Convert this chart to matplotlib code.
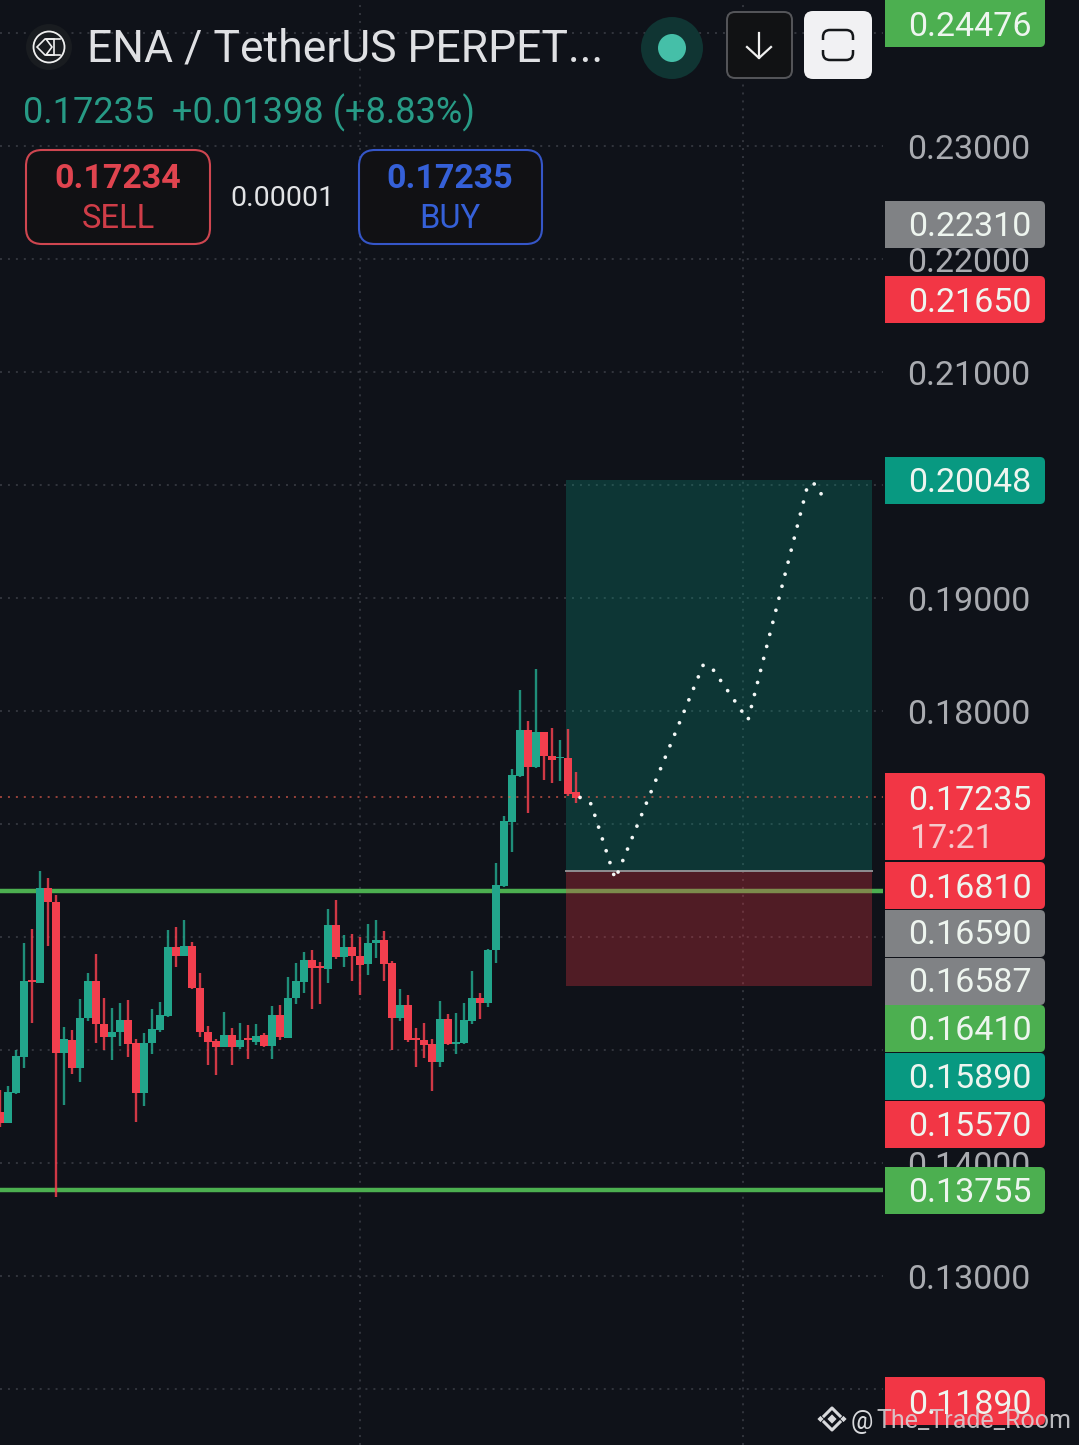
import numpy as np
import matplotlib
matplotlib.use("Agg")
import matplotlib.pyplot as plt
from matplotlib.patches import FancyBboxPatch, Circle, Rectangle, Polygon

plt.rcParams['font.family'] = ['Roboto', 'DejaVu Sans']

# === candles ===
opens = [.14454, .14357, .14622, .14941, .15619, .15596, .16431, .16307, .14970, .15088,
         .14844, .15280, .15611, .15227, .15118, .15162, .15265, .15059, .14622, .15059,
         .15177, .15304, .15909, .15835, .15923, .15552, .15162, .15083, .15030, .15133,
         .15030, .15103, .15068, .15133, .15038, .15310, .15109, .15457, .15605, .15796,
         .15743, .15717, .16106, .15826, .15914, .15835, .15761, .15944, .15973, .15767,
         .15286, .15398, .15103, .15088, .15050, .14897, .15274, .15050, .15065, .15260,
         .15457, .15419, .15885, .16451, .17018, .17424, .17832, .17504, .17814, .17602,
         .17584, .17584, .17283]
closes = [.14351, .14625, .14947, .15611, .15602, .16431, .16307, .14970, .15094, .14844,
          .15280, .15611, .15227, .15118, .15162, .15265, .15050, .14622, .15059, .15183,
          .15310, .15909, .15835, .15923, .15552, .15162, .15074, .15030, .15133, .15030,
          .15088, .15088, .15127, .15035, .15310, .15112, .15457, .15611, .15796, .15729,
          .15729, .16106, .15826, .15914, .15835, .15752, .15944, .15973, .15761, .15286,
          .15398, .15088, .15088, .15044, .14897, .15274, .15050, .15074, .15265, .15457,
          .15419, .15885, .16460, .17026, .17433, .17832, .17504, .17814, .17602, .17566,
          .17593, .17265, .17230]
highs = [.14646, .14681, .15000, .15944, .16068, .16587, .16519, .16372, .15206, .15177,
         .15451, .15678, .15850, .15457, .15369, .15413, .15442, .15094, .15147, .15360,
         .15425, .16062, .16086, .16150, .15959, .15678, .15215, .15094, .15333, .15192,
         .15236, .15221, .15230, .15147, .15389, .15398, .15643, .15767, .15864, .15885,
         .15776, .16248, .16327, .16018, .16027, .16003, .16115, .16150, .16056, .15791,
         .15537, .15487, .15198, .15242, .15094, .15434, .15319, .15330, .15419, .15702,
         .15507, .15891, .16658, .17070, .17486, .18186, .17911, .18371, .17814, .17849,
         .17743, .17840, .17460]
lows = [.14321, .14351, .14611, .14838, .15242, .15590, .15920, .13702, .14513, .14788,
        .14720, .15260, .15059, .15000, .14911, .15035, .14935, .14366, .14504, .14965,
        .15162, .15295, .15737, .15832, .15537, .15118, .14867, .14776, .15030, .14867,
        .15006, .14920, .15044, .15030, .14920, .15088, .15103, .15407, .15501, .15360,
        .15407, .15590, .15802, .15737, .15611, .15487, .15664, .15811, .15611, .15000,
        .15260, .15074, .14852, .14926, .14640, .14847, .15044, .14965, .15053, .15230,
        .15274, .15378, .15773, .16442, .16752, .17416, .17097, .17495, .17389, .17363,
        .17380, .17247, .17186]

grid_prices = [.12, .13, .14, .15, .16, .17, .18, .19, .20, .21, .22, .23, .24]
tick_prices = [.23, .22, .21, .19, .18, .14, .13]

support_levels = [.16407, .13761]
last_price = .17235
take_profit = .20048
entry_price = .16587
stop_loss = .15570

path_bar = [72.5, 73.9, 76.9, 87.9, 89.0, 93.5, 101.0, 101.9, 103.1]
path_price = [.17235, .17177, .16513, .18407, .18380, .17920, .20009, .20009, .19867]

# axis labels: text, colour, top and bottom of the box in pixels
label_text = ["0.24476", "0.22310", "0.21650", "0.20048", "0.17235", "0.16810", "0.16590",
              "0.16587", "0.16410", "0.15890", "0.15570", "0.13755", "0.11890"]
label_col = ["#4caf50", "#808285", "#f23645", "#089981", "#f23645", "#f23645", "#808285",
             "#808285", "#4caf50", "#089981", "#f23645", "#4caf50", "#f23645"]
label_top = [-20, 201, 276, 457, 773, 862, 910, 958, 1005, 1053, 1101, 1167, 1377]
label_bot = [47, 248, 323, 504, 860, 909, 957, 1005, 1052, 1100, 1148, 1214, 1425]
label_mid = [24, 224, 299, 480, 797, 885, 932, 980, 1028, 1076, 1124, 1190, 1401]

BG = "#0f1219"
UP = "#22a58b"
DOWN = "#f23f4e"
GRID = "#3c3f47"
DOTS = (0, (1.3, 3.9))

fig = plt.figure(figsize=(10.79, 14.45), dpi=100, facecolor=BG)
ax = fig.add_axes([0, 0, 1, 1], facecolor=BG)
ax.set_xlim(0, 1079 / 8)
ax.set_ylim(.23 - 1299 / 11300, .23 + 146 / 11300)
ax.axis("off")

right_bar = 883 / 8

# === grid ===
ax.hlines(grid_prices, 0, right_bar, color=GRID, lw=1.1, linestyle=DOTS, zorder=1)
ax.vlines([360 / 8, 743 / 8], ax.get_ylim()[0], ax.get_ylim()[1], color=GRID, lw=1.1, linestyle=DOTS, zorder=1)

# === level lines ===
ax.hlines(support_levels, 0, right_bar, color="#4caf50", lw=3.2, zorder=2)

# === long position box ===
box_x0 = 566 / 8
box_w = (872 - 566) / 8
ax.add_patch(Rectangle((box_x0, entry_price), box_w, take_profit - entry_price, color="#089981", alpha=0.27, lw=0, zorder=3))
ax.add_patch(Rectangle((box_x0, stop_loss), box_w, entry_price - stop_loss, color="#f23645", alpha=0.29, lw=0, zorder=3))
ax.plot([box_x0, box_x0 + box_w], [entry_price, entry_price], color="#8f8f92", lw=1.4, zorder=3)

# === candles ===
bars = np.arange(len(opens))
o = np.array(opens)
c = np.array(closes)
cols = [UP if b >= a else DOWN for a, b in zip(o, c)]
ax.vlines(bars, lows, highs, colors=cols, lw=1.7, alpha=0.85, zorder=4)
ax.bar(bars, np.maximum(np.abs(c - o), .00009), bottom=np.minimum(o, c), width=0.92, color=cols, lw=0, zorder=5)

ax.hlines([last_price], 0, right_bar, color="#e8604f", lw=1.1, linestyle=DOTS, alpha=0.8, zorder=6)

# === projected path ===
ax.plot(path_bar, path_price, color="#f2f6f5", lw=2.7, linestyle=(0, (0.01, 3.3)), dash_capstyle="round", zorder=7)

# === pixel overlay for the app ui ===
ui = fig.add_axes([0, 0, 1, 1], facecolor="none")
ui.set_xlim(0, 1079)
ui.set_ylim(1445, 0)
ui.axis("off")

for p in tick_prices:
    y = 146 + (.23 - p) * 11300
    ui.text(1030.5, y + 0.5, f"{p:.5f}", color="#a9abb0", fontsize=24.5, ha="right", va="center_baseline", zorder=2)

for t, col, y0, y1, ym in zip(label_text, label_col, label_top, label_bot, label_mid):
    ui.add_patch(FancyBboxPatch((885, y0), 160, y1 - y0, boxstyle="round,pad=0,rounding_size=5",
                                fc=col, ec="none", lw=0, zorder=3))
    ui.add_patch(Rectangle((885, y0), 10, y1 - y0, color=col, lw=0, zorder=3))
    ui.text(1031.5, ym, t, color="#eef5ef", fontsize=24.5, ha="right", va="center_baseline", zorder=4)
ui.text(909, 836, "17:21", color="#f6c9cc", fontsize=24.5, ha="left", va="center_baseline", zorder=4)

# header
ui.add_patch(Circle((49, 47), 23, color="#191c20", lw=0))
ui.add_patch(Circle((49, 47), 15.5, fc="none", ec="#f0f0f0", lw=1.3))
ui.add_patch(Polygon([[37, 47], [45, 39], [54, 39], [54, 55], [45, 55]], closed=True, fc="none", ec="#f0f0f0", lw=1.2))
ui.plot([60, 46, 52, 46, 60], [39, 39, 47, 55, 55], color="#f0f0f0", lw=1.2)
ui.text(87, 45, "ENA / TetherUS PERPET...", color="#dfe0e3", fontsize=32, ha="left", va="center_baseline")
ui.text(23, 109, "0.17235", color="#279b86", fontsize=26, ha="left", va="center_baseline")
ui.text(172, 109, "+0.01398 (+8.83%)", color="#279b86", fontsize=26, ha="left", va="center_baseline")

ui.add_patch(FancyBboxPatch((26, 150), 184, 94, boxstyle="round,pad=0,rounding_size=16", fc="#111114", ec="#cf4650", lw=1.5))
ui.text(118, 176, "0.17234", color="#e0444f", fontsize=24.5, fontweight="bold", ha="center", va="center_baseline")
ui.text(118, 215, "SELL", color="#cf3d48", fontsize=23.5, ha="center", va="center_baseline")
ui.text(283, 195, "0.00001", color="#e2e3e5", fontsize=20.5, ha="center", va="center_baseline")
ui.add_patch(FancyBboxPatch((359, 150), 183, 94, boxstyle="round,pad=0,rounding_size=16", fc="#111114", ec="#3556c8", lw=1.5))
ui.text(450, 176, "0.17235", color="#3560d8", fontsize=24.5, fontweight="bold", ha="center", va="center_baseline")
ui.text(450, 215, "BUY", color="#3560d8", fontsize=23.5, ha="center", va="center_baseline")

ui.add_patch(Circle((672, 48), 31, color="#103533", lw=0))
ui.add_patch(Circle((672, 48), 14, color="#45bfa8", lw=0))

ui.add_patch(FancyBboxPatch((727, 12), 65, 66, boxstyle="round,pad=0,rounding_size=8", fc="#111214", ec="#55565a", lw=1.4))
ui.plot([759, 759], [33, 58], color="#f0f0f0", lw=1.6)
ui.plot([747, 759, 771], [47, 58, 47], color="#f0f0f0", lw=1.6)

ui.add_patch(FancyBboxPatch((804, 11), 68, 68, boxstyle="round,pad=0,rounding_size=9", fc="#f1f1f3", ec="#f1f1f3", lw=0))
ui.add_patch(FancyBboxPatch((823, 30), 30, 30, boxstyle="round,pad=0,rounding_size=7", fc="none", ec="#15171a", lw=1.8))
ui.add_patch(Rectangle((820, 40), 36, 10, color="#f1f1f3", lw=0))

# watermark
logo_x = [832, 820.5, 843.5]
logo_y = [1419, 1419, 1419]
ui.scatter(logo_x, logo_y, marker="D", s=[22, 10, 10], color="#d8d9dc", lw=0, zorder=6)
ui.plot([824, 832, 840], [1416, 1408, 1416], color="#d8d9dc", lw=2.2, zorder=6)
ui.plot([824, 832, 840], [1422, 1430, 1422], color="#d8d9dc", lw=2.2, zorder=6)
ui.text(851, 1419, "@", color="#d8d9dc", fontsize=18, ha="left", va="center_baseline", zorder=6)
ui.text(876, 1419, "The_Trade_Room", color="#d8d9dc", fontsize=18, alpha=0.85, ha="left", va="center_baseline", zorder=6)

fig.savefig("out.png", dpi=100, facecolor=BG)
plt.close()
